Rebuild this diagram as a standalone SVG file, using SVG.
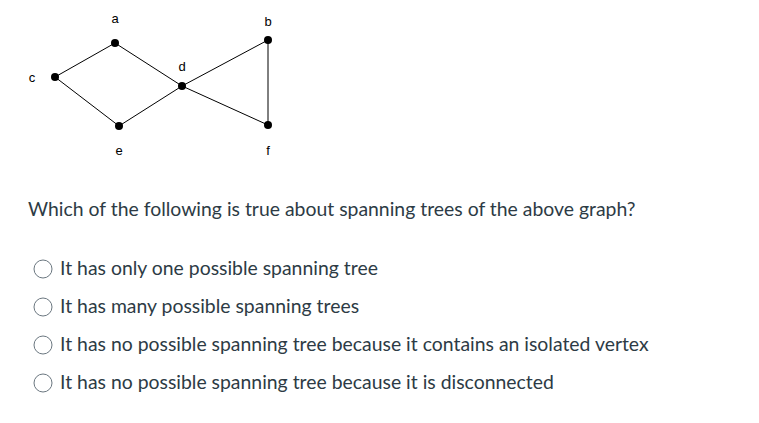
<svg xmlns="http://www.w3.org/2000/svg" width="759" height="423" viewBox="0 0 759 423">
<style>
.e{stroke:#000;stroke-width:1;fill:none}
.v{fill:#000}
.l{font-family:"Liberation Sans",Arial,sans-serif;font-size:13px;fill:#000;text-anchor:middle}
.q{font-family:Lato,"Liberation Sans",sans-serif;font-size:19.4px;fill:#2d3b45}
.r{fill:#fff;stroke:#6b7780;stroke-width:1}
</style>
<rect width="759" height="423" fill="#fff"/>
<g id="edges">
<line class="e" x1="55" y1="77" x2="115" y2="43"/>
<line class="e" x1="115" y1="43" x2="182" y2="86"/>
<line class="e" x1="55" y1="77" x2="119" y2="126"/>
<line class="e" x1="119" y1="126" x2="182" y2="86"/>
<line class="e" x1="182" y1="86" x2="268" y2="40"/>
<line class="e" x1="268" y1="40" x2="268" y2="125"/>
<line class="e" x1="182" y1="86" x2="268" y2="125"/>
</g>
<g id="node-a"><circle class="v" cx="115" cy="43" r="4"/><text class="l" x="115" y="23">a</text></g>
<g id="node-b"><circle class="v" cx="268" cy="40" r="4"/><text class="l" x="268" y="26">b</text></g>
<g id="node-c"><circle class="v" cx="55" cy="77" r="4"/><text class="l" x="32" y="82">c</text></g>
<g id="node-d"><circle class="v" cx="182" cy="86" r="4"/><text class="l" x="182" y="71">d</text></g>
<g id="node-e"><circle class="v" cx="119" cy="126" r="4"/><text class="l" x="119" y="155">e</text></g>
<g id="node-f"><circle class="v" cx="268" cy="125" r="4"/><text class="l" x="268" y="155">f</text></g>
<text class="q" x="28" y="216">Which of the following is true about spanning trees of the above graph?</text>
<g id="opt1"><circle class="r" cx="43" cy="269" r="9"/><text class="q" x="60" y="275">It has only one possible spanning tree</text></g>
<g id="opt2"><circle class="r" cx="43" cy="307" r="9"/><text class="q" x="60" y="313">It has many possible spanning trees</text></g>
<g id="opt3"><circle class="r" cx="43" cy="345" r="9"/><text class="q" x="60" y="351">It has no possible spanning tree because it contains an isolated vertex</text></g>
<g id="opt4"><circle class="r" cx="43" cy="383" r="9"/><text class="q" x="60" y="389">It has no possible spanning tree because it is disconnected</text></g>
</svg>
